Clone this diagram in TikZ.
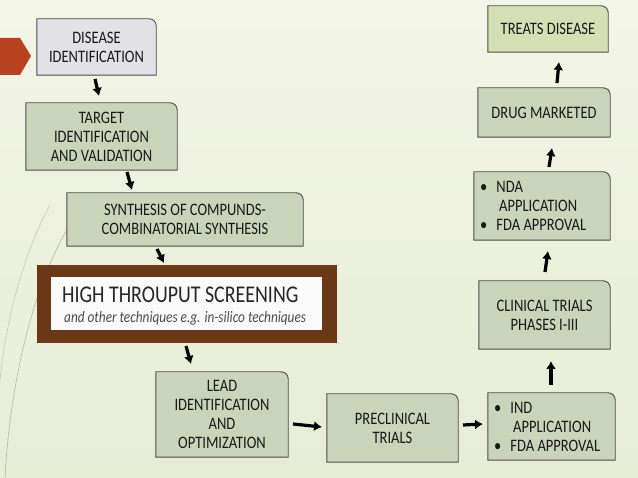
\documentclass[tikz,border=0pt]{standalone}
\usepackage{fontspec}
\setmainfont{Carlito}[FakeStretch=0.83]
\usetikzlibrary{arrows.meta}
\begin{document}
\definecolor{bgA}{HTML}{F3F5E8}
\definecolor{bgB}{HTML}{E6EDD3}
\definecolor{gbox}{HTML}{CAD4BB}
\definecolor{gray1}{HTML}{E1E1E6}
\definecolor{tbox}{HTML}{D5DFB4}
\definecolor{brn}{HTML}{6A3816}
\definecolor{redd}{HTML}{B8421F}
\begin{tikzpicture}[x=1pt,y=-1pt,
  lbl/.style={align=center,font=\fontsize{17.5}{19}\selectfont,inner sep=0pt,text=black!90},
  arr/.style={line width=3.2pt,-{Latex[length=8pt,width=10pt]}},
]
\shade[top color=bgA,bottom color=bgB] (0,0) rectangle (638,478);
\useasboundingbox (0,0) rectangle (638,478);
\draw[gray!50,line width=0.5pt] (50,205) .. controls (20,260) and (5,330) .. (0,380);
\draw[gray!60,line width=0.6pt] (70,225) .. controls (35,280) and (10,380) .. (5,478);
\fill[redd] (0,38) -- (20,38) -- (31,56) -- (20,75) -- (0,75) -- cycle;
\newcommand{\rbox}[7]{%
  \node[lbl,minimum width={#4-#2},minimum height={#5-#3}] (#1) at ({(#2+#4)/2},{(#3+#5)/2}) {};
  \path[fill=#6,draw=black!70,line width=0.9pt] (#1.south west) -- (#1.north west) [rounded corners=7pt] -- (#1.north east) [sharp corners] -- (#1.south east) -- cycle;
  \node[lbl] at (#1) {#7};}
\rbox{dis}{37}{19}{156}{75}{gray1}{DISEASE\\IDENTIFICATION}
\rbox{tar}{26}{103}{177}{170}{gbox}{TARGET\\IDENTIFICATION\\AND VALIDATION}
\rbox{syn}{67}{193}{303}{246}{gbox}{SYNTHESIS OF COMPUNDS-\\COMBINATORIAL SYNTHESIS}
\fill[brn] (37,265) rectangle (337,343);
\fill[white!96!gray] (51,277) rectangle (322,330);
\node[inner sep=0pt,minimum width=300,minimum height=78] (hts) at (187,304) {};
\node[font=\fontsize{24}{25}\selectfont,color=black!85,anchor=west,inner sep=0pt] at (62,295) {HIGH THROUPUT SCREENING};
\node[font=\itshape\fontsize{16}{17}\selectfont,color=black!70,anchor=west,inner sep=0pt] at (64,318) {and other techniques e.g. in-silico techniques};
\rbox{lead}{156}{372}{288}{457}{gbox}{LEAD\\IDENTIFICATION\\AND\\OPTIMIZATION}
\rbox{pre}{327}{394}{458}{462}{gbox}{PRECLINICAL\\TRIALS}
\rbox{ind}{488}{393}{615}{460}{gbox}{}
\node[lbl,align=left,anchor=west] at (494,427) {\textbullet\hspace{9pt}IND\\\hspace*{19pt}APPLICATION\\\textbullet\hspace{9pt}FDA APPROVAL};
\rbox{cli}{479}{281}{610}{349}{gbox}{CLINICAL TRIALS\\PHASES I-III}
\rbox{nda}{474}{172}{610}{240}{gbox}{}
\node[lbl,align=left,anchor=west] at (480,206) {\textbullet\hspace{9pt}NDA\\\hspace*{19pt}APPLICATION\\\textbullet\hspace{9pt}FDA APPROVAL};
\rbox{mkt}{478}{88}{610}{137}{gbox}{DRUG MARKETED}
\rbox{trt}{488}{6}{608}{52}{tbox}{TREATS DISEASE}
\draw[arr] (95,79) -- (99,96);
\draw[arr] (127,172) -- (132,190);
\draw[arr] (157,249) -- (164,263);
\draw[arr] (186,346) -- (191,364);
\draw[arr] (293,424) -- (322,427);
\draw[arr] (463,425) -- (483,424);
\draw[arr] (551,385) -- (551,361);
\draw[arr] (545,272) -- (548,251);
\draw[arr] (549,167) -- (552,148);
\draw[arr] (557,83) -- (559,62);
\end{tikzpicture}
\end{document}
